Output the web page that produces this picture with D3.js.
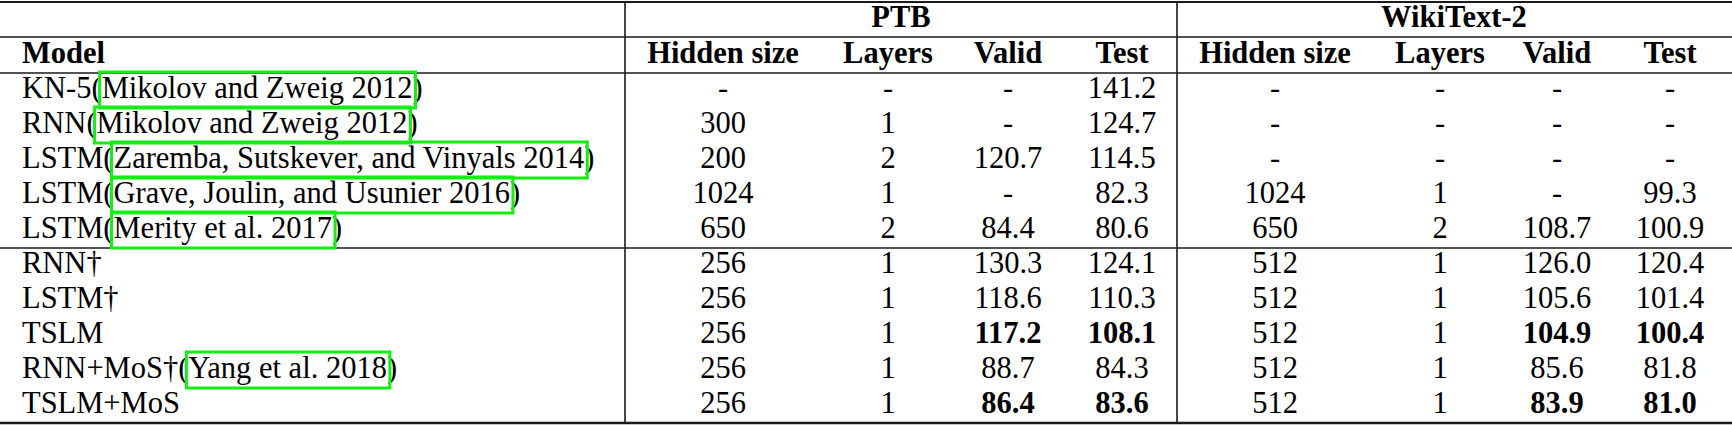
<!DOCTYPE html>
<head>
<title>PTB and WikiText-2 perplexity</title>
  <style>
  body { margin: 0; background: #fff; }
  text { font-family: "Liberation Serif", "Times New Roman", serif; font-size: 30.5px; fill: #000; }
  .hd { font-weight: bold; }
  .rule { stroke: #1a1a1a; }
  .cite { fill: none; stroke: #14ee14; stroke-width: 3; }
  </style>
</head>

<body>

  <script src="https://cdn.jsdelivr.net/npm/d3@7/dist/d3.min.js"></script>

  <script>

    // table contents (null = "-")
    var models = ["KN-5", "RNN", "LSTM", "LSTM", "LSTM", "RNN\u2020", "LSTM\u2020", "TSLM", "RNN+MoS\u2020", "TSLM+MoS"];
    var cites = ["Mikolov and Zweig 2012", "Mikolov and Zweig 2012", "Zaremba, Sutskever, and Vinyals 2014",
                 "Grave, Joulin, and Usunier 2016", "Merity et al. 2017", null, null, null, "Yang et al. 2018", null];

    var datasets = ["PTB", "WikiText-2"];
    var colHeads = ["Hidden size", "Layers", "Valid", "Test"];

    var ptbHidden = [null, 300, 200, 1024, 650, 256, 256, 256, 256, 256];
    var ptbLayers = [null, 1, 2, 1, 2, 1, 1, 1, 1, 1];
    var ptbValid  = [null, null, 120.7, null, 84.4, 130.3, 118.6, 117.2, 88.7, 86.4];
    var ptbTest   = [141.2, 124.7, 114.5, 82.3, 80.6, 124.1, 110.3, 108.1, 84.3, 83.6];

    var wikiHidden = [null, null, null, 1024, 650, 512, 512, 512, 512, 512];
    var wikiLayers = [null, null, null, 1, 2, 1, 1, 1, 1, 1];
    var wikiValid  = [null, null, null, null, 108.7, 126.0, 105.6, 104.9, 85.6, 83.9];
    var wikiTest   = [null, null, null, 99.3, 100.9, 120.4, 101.4, 100.4, 81.8, 81.0];

    // rows whose Valid/Test numbers are in bold
    var boldRows = [7, 9];
    // the second block of rows starts here
    var splitRow = 5;

    var width = 1732, height = 425;
    var topY = 2, titleLine = 37, headLine = 73, bottomY = 423;
    var leftX = 22;

    var svg = d3.select("body").append("svg")
                .attr("width", width)
                .attr("height", height);

    // row scale
    var y = d3.scaleBand().domain(d3.range(models.length)).range([headLine, bottomY]);

    // column centres
    var colKeys = ["ph", "pl", "pv", "pt", "wh", "wl", "wv", "wt"];
    var x = d3.scaleOrdinal().domain(colKeys).range([723, 888, 1008, 1122, 1275, 1440, 1557, 1670]);
    var blockX = d3.scaleOrdinal().domain(datasets).range([901, 1454]);
    var dividers = [625, 1177];

    var fmtInt = function(d) { return d == null ? "-" : String(d); };
    var fmtDec = function(d) { return d == null ? "-" : d3.format(".1f")(d); };

    var columns = [
      {key: "ph", vals: ptbHidden, f: fmtInt, b: false},
      {key: "pl", vals: ptbLayers, f: fmtInt, b: false},
      {key: "pv", vals: ptbValid, f: fmtDec, b: true},
      {key: "pt", vals: ptbTest, f: fmtDec, b: true},
      {key: "wh", vals: wikiHidden, f: fmtInt, b: false},
      {key: "wl", vals: wikiLayers, f: fmtInt, b: false},
      {key: "wv", vals: wikiValid, f: fmtDec, b: true},
      {key: "wt", vals: wikiTest, f: fmtDec, b: true}
    ];

    var cells = [];
    columns.forEach(function(c) {
      c.vals.forEach(function(v, i) {
        cells.push({col: c.key, row: i, text: c.f(v), bold: c.b && boldRows.indexOf(i) >= 0});
      });
    });

    // rules
    var hLines = [{y: topY, w: 2.2}, {y: titleLine, w: 1.6}, {y: headLine, w: 1.6},
                  {y: y(splitRow), w: 1.6}, {y: bottomY, w: 2.4}];
    svg.selectAll(".hline")
       .data(hLines)
       .enter().append("line")
       .attr("class", "rule")
       .attr("x1", 0).attr("x2", width)
       .attr("y1", function(d) { return d.y; })
       .attr("y2", function(d) { return d.y; })
       .attr("stroke-width", function(d) { return d.w; });

    svg.selectAll(".vline")
       .data(dividers)
       .enter().append("line")
       .attr("class", "rule")
       .attr("x1", function(d) { return d; }).attr("x2", function(d) { return d; })
       .attr("y1", topY).attr("y2", bottomY)
       .attr("stroke-width", 1.6);

    // dataset titles
    svg.selectAll(".ds")
       .data(datasets)
       .enter().append("text")
       .attr("class", "hd")
       .attr("x", function(d) { return blockX(d); })
       .attr("y", topY + 25)
       .attr("text-anchor", "middle")
       .text(function(d) { return d; });

    // column headers
    svg.append("text")
       .attr("class", "hd")
       .attr("x", leftX)
       .attr("y", titleLine + 26)
       .text("Model");

    svg.selectAll(".ch")
       .data(colKeys)
       .enter().append("text")
       .attr("class", "hd")
       .attr("x", function(d) { return x(d); })
       .attr("y", titleLine + 26)
       .attr("text-anchor", "middle")
       .text(function(d, i) { return colHeads[i % 4]; });

    // numbers
    svg.selectAll(".cell")
       .data(cells)
       .enter().append("text")
       .attr("x", function(d) { return x(d.col); })
       .attr("y", function(d) { return y(d.row) + 25; })
       .attr("text-anchor", "middle")
       .style("font-weight", function(d) { return d.bold ? "bold" : "normal"; })
       .text(function(d) { return d.text; });

    // model names, with citation boxes
    models.forEach(function(m, i) {
      var base = y(i) + 25;
      if (cites[i] == null) {
        svg.append("text").attr("x", leftX).attr("y", base).text(m);
        return;
      }
      var pre = svg.append("text").attr("x", leftX).attr("y", base).text(m + "(");
      var cx = leftX + pre.node().getComputedTextLength();
      var ct = svg.append("text").attr("x", cx).attr("y", base).text(cites[i]);
      var cw = ct.node().getComputedTextLength();
      svg.append("text").attr("x", cx + cw).attr("y", base).text(")");
      svg.append("rect")
         .attr("class", "cite")
         .attr("x", cx - 2)
         .attr("y", base - 26)
         .attr("width", cw + 5)
         .attr("height", 36);
    });

  </script>

</body>
